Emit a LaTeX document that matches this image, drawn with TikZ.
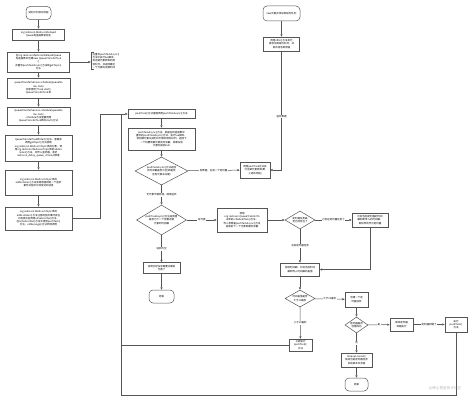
\documentclass[tikz,border=0pt]{standalone}
\usepackage{fontspec}
\setmainfont{Noto Sans CJK SC}
\usetikzlibrary{shapes.geometric,arrows.meta}
\definecolor{linegray}{RGB}{85,85,85}
\newcommand{\fz}{\fontsize{2.5}{3.2}\selectfont}

\begin{document}
\begin{tikzpicture}[x=1pt,y=-1pt,
  wire/.style={draw=linegray,line width=0.5pt},
  >={Triangle[length=2.4pt,width=2pt]},
  sz/.style 2 args={minimum width=#1pt,minimum height=#2pt},
  box/.style={draw=linegray,line width=0.5pt,inner sep=0.5pt,align=center,font=\fz},
  startbox/.style={box,rounded corners=4pt},
  dec/.style={diamond,draw=linegray,line width=0.5pt,inner sep=0pt,align=center,font=\fz},
  lbl/.style={fill=white,inner sep=0.6pt,font=\fz}]
\useasboundingbox (0,0) rectangle (474,401);

% Left column
\node[startbox,sz={25}{13}] (s1) at (38.5,13) {延时队列启动流程};
\node[box,sz={52}{11}] (b2) at (38.5,34.5) {org.redisson.RedissonDelayed\\Queue构造函数初始化};
\node[box,sz={62}{20}] (b3) at (38.5,62) {在org.redisson.RedissonDelayedQueue\\构造函数中创建new QueueTransferTask\\()\\并重写pushTaskAsync()方法和getTopic()\\方法};
\node[font=\fz,align=left,inner sep=0.5pt] (note) at (106,61) {在重写pushTaskAsync()\\方法中执行lua脚本，\\将过期元素转移到目\\标队列，并返回最近\\一个元素的过期时间};
\node[box,sz={63}{20}] (b4) at (38.5,88) {queueTransferService.schedule(queueNa\\me, task)\\内部调用了task.start()\\QueueTransferTask 类};
\node[box,sz={63}{18}] (b5) at (38.5,116) {QueueTransferService.schedule(queueNa\\me, task)\\schedule方法里面调用\\QueueTransferTask类的start()方法};
\node[box,sz={67}{26}] (b6) at (38.5,148) {QueueTransferTask的start()方法，里面会\\调用getTopic()方法获取\\org.redisson.RedissonTopic类的对象，调\\用org.redisson.RedissonTopic类的addLis\\tener()方法，并传入监听器，监听\\redisson\_delay\_queue\_channel频道};
\node[box,sz={67}{25}] (b7) at (38.5,182.5) {org.redisson.RedissonTopic类的\\addListener()方法会给频道绑定一个监听\\事件并监听订阅成功的消息};
\node[box,sz={67}{23}] (b8) at (38.5,218.5) {org.redisson.RedissonTopic类的\\addListener()方法注册的监听事件会在\\订阅成功后调用onSubscribe()方法，\\在onSubscribe()方法中调用pushTask()\\方法，onMessage()方法同样调用};

% Right column
\node[startbox,sz={37}{15}] (t1) at (281.5,13.5) {new元素并添加到延时队列};
\node[box,sz={36}{14}] (t2) at (281.5,44) {调用offer()方法将元\\素添加到延时队列，并\\发布消息到频道};
\node[box,sz={67}{9}] (p1) at (161.5,114) {pushTask()方法里面调用pushTaskAsync()方法};
\node[box,sz={67}{22}] (p2) at (161.5,139) {pushTaskAsync()方法，就是在构造函数中\\重写的pushTaskAsync()方法，执行lua脚本，\\将到期元素从延时队列移到目标队列，返回下\\一个将要到期元素的时间戳，如果没有\\元素则返回null};
\node[dec,sz={53}{28},aspect=1.89] (d1) at (161.5,171) {pushTaskAsync()方法返回\\的时间戳是否为空(即是否\\还有元素未过期)};
\node[box,sz={30}{16}] (r1) at (255,170) {调用pushTask方法执\\行过期元素转移(即\\上述的流程)};
\node[dec,sz={50}{30},aspect=1.67] (d2) at (161.5,220) {pushTaskAsync()方法返回值\\是否为下一个将要过期\\元素的时间戳};
\node[box,sz={50}{24}] (r2) at (242,220) {调用\\org.redisson.QueueTransferTa\\sk类的scheduleTask()方法，\\传入参数是pushTaskAsync()方法\\返回的下一个元素到期时间戳};
\node[dec,sz={30}{18},aspect=1.67] (d3) at (300,220) {定时器任务是\\否已经存在了};
\node[box,sz={36}{14}] (r3) at (370,220) {比较当前定时器的时间\\戳和新传入的时间戳，\\取较早的作为定时器};
\node[box,sz={37}{11}] (n1) at (161.5,268) {说明已经没有需要过期的\\元素了};
\node[startbox,sz={25}{13}] (e1) at (161.5,296.5) {结束};
\node[box,sz={39}{13}] (r4) at (300,269.5) {获取时间戳，比较当前时间\\戳和传入时间戳的差值};
\node[dec,sz={30}{17},aspect=1.76] (d4) at (300,298.5) {时间差值是否\\大于10毫秒};
\node[box,sz={23}{15}] (r5) at (356.5,299.5) {创建一个定\\时器任务};
\node[box,sz={23}{12}] (r6) at (300.5,345) {立即执行\\pushTask()\\方法};
\node[dec,sz={23}{16},aspect=1.44] (d5) at (356.5,325) {定时器是否\\创建成功};
\node[box,sz={23}{13}] (r7) at (401.5,324.5) {等待定时器\\到期执行};
\node[box,sz={22}{15}] (r8) at (456,324.5) {执行\\pushTask()\\方法};
\node[box,sz={31}{14}] (r9) at (356.5,360) {timeout.cancel()\\取消当前定时器任务\\并结束本次流程};
\node[startbox,sz={23}{13}] (e2) at (356.5,384.5) {结束};
\node[font=\fontsize{3.6}{4}\selectfont,text=gray!55] (wm) at (445,388) {@稀土掘金技术社区};

\coordinate (jA) at (100,114);
\coordinate (jB) at (121,114);
\coordinate (lp) at (121,395);

% Left column arrows
\draw[wire,->] (s1) -- (b2);
\draw[wire,->] (b2) -- (b3);
\draw[wire,->] (b3) -- (b4);
\draw[wire,->] (b4) -- (b5);
\draw[wire,->] (b5) -- (b6);
\draw[wire,->] (b6) -- (b7);
\draw[wire,->] (b7) -- (b8);
% Note bracket
\draw[wire] ([xshift=2pt]note.north west) -| ([xshift=-1pt]note.west) |- ([xshift=2pt]note.south west);
\draw[wire,->] (b3.east) -- ([xshift=-1pt]b3.east -| note.west);
% Into right column
\draw[wire,->] (b8.east) -| (jA) -- (p1.west);
\draw[wire] (r6.west) -| (jB);
\draw[wire] (r8.south) |- (lp) -- (jB);

% Right column arrows
\draw[wire,->] (t1) -- (t2);
\draw[wire,->] (t2.south) -- node[lbl,pos=0.55]{监听数据} (t2.south |- r1.east) -- (r1.east);
\draw[wire,->] (p1) -- (p2);
\draw[wire,->] (p2) -- (d1);
\draw[wire,->] (d1) -- node[lbl]{有数据，生成一个定时器} (r1);
\draw[wire,->] (d1) -- node[lbl]{无元素不做处理，继续监听} (d2);
\draw[wire,->] (d2) -- node[lbl]{有元素} (r2);
\draw[wire,->] (d2) -- node[lbl]{返回为空} (n1);
\draw[wire,->] (n1) -- (e1);
\draw[wire,->] (r2) -- (d3);
\draw[wire,->] (d3) -- node[lbl]{已存在定时器任务了} (r3);
\draw[wire,->] (d3) -- node[lbl]{没有定时器任务} (r4);
\draw[wire,->] (r3.south) |- (r4.east);
\draw[wire,->] (r4) -- (d4);
\draw[wire,->] (d4) -- node[lbl]{大于10毫秒} (r5);
\draw[wire,->] (d4) -- node[lbl]{小于10毫秒} (r6);
\draw[wire,->] (r5) -- (d5);
\draw[wire,->] (d5) -- node[lbl]{是} (r7);
\draw[wire,->] (r7) -- node[lbl]{定时器到期了} (r8);
\draw[wire,->] (d5) -- node[lbl]{否} (r9);
\draw[wire,->] (r9) -- (e2);

\end{tikzpicture}
\end{document}
